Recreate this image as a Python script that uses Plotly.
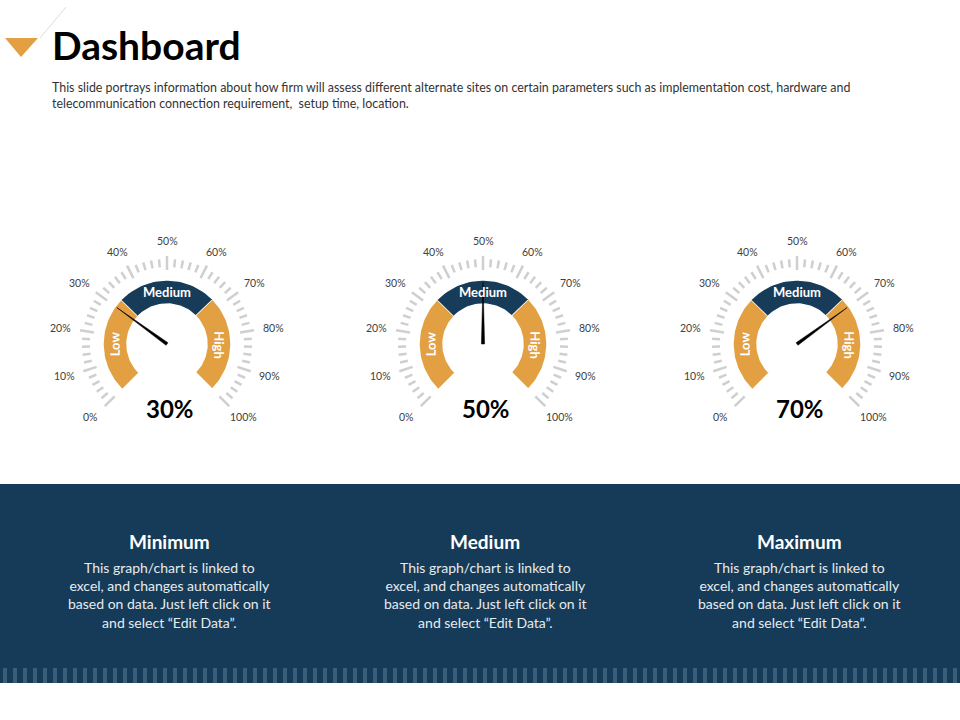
import numpy as np
import plotly.graph_objects as go

# %% DATA
gauge_values = [30, 50, 70]
gauge_titles = ["Minimum", "Medium", "Maximum"]
band_names = ["Low", "Medium", "High"]
band_edges = [0, 33, 67, 100]
tick_labels = [0, 10, 20, 30, 40, 50, 60, 70, 80, 90, 100]
body_text = "This graph/chart is linked to<br>excel, and changes automatically<br>based on data. Just left click on it<br>and select \u201cEdit Data\u201d."

# %% SETTINGS
W, H = 960, 720
centers = [(167, 344), (483, 344), (797, 344)]
ORANGE = "#E2A042"
NAVY = "#173C59"
PANEL = "#153B58"
FONT = "Lato"

def pt(cx, cy, v, r):
    th = np.radians(225 - 2.7 * v)
    return cx + r * np.cos(th), cy - r * np.sin(th)

fig = go.Figure()
annotations = []
shapes = []

for g, (cx, cy) in enumerate(centers):
    # bands
    for b in range(3):
        vs = np.linspace(band_edges[b], band_edges[b + 1], 40)
        outer = [pt(cx, cy, v, 64) for v in vs]
        inner = [pt(cx, cy, v, 40) for v in vs[::-1]]
        xs = [p[0] for p in outer + inner]
        ys = [p[1] for p in outer + inner]
        fig.add_trace(go.Scatter(x=xs, y=ys, fill="toself", mode="lines",
                                 line=dict(color="white", width=1.5),
                                 fillcolor=NAVY if b == 1 else ORANGE, hoverinfo="skip"))
    # band labels
    for b, name in enumerate(band_names):
        mid = (band_edges[b] + band_edges[b + 1]) / 2
        x, y = pt(cx, cy, mid, 52)
        ang = -(225 - 2.7 * mid) + 90
        annotations.append(dict(x=x, y=y, text="<b>" + name + "</b>", showarrow=False,
                                textangle=ang, font=dict(family=FONT, size=13, color="white")))
    # ticks
    tx, ty = [], []
    for v in range(0, 101, 2):
        r0, r1 = (74, 88) if v % 10 == 0 else (77, 85)
        x0, y0 = pt(cx, cy, v, r0)
        x1, y1 = pt(cx, cy, v, r1)
        tx += [x0, x1, None]
        ty += [y0, y1, None]
    fig.add_trace(go.Scatter(x=tx, y=ty, mode="lines", line=dict(color="#CFCFCF", width=2.5),
                             hoverinfo="skip"))
    for v in tick_labels:
        x, y = pt(cx, cy, v, 103)
        x = cx + (x - cx) * 1.05
        annotations.append(dict(x=x, y=y, text=f"{v}%", showarrow=False,
                                font=dict(family=FONT, size=10.5, color="#404040")))
    # needle
    val = gauge_values[g]
    tipx, tipy = pt(cx, cy, val, 62)
    b1 = pt(cx, cy, val - 90 / 2.7, 1.6)
    b2 = pt(cx, cy, val + 90 / 2.7, 1.6)
    fig.add_trace(go.Scatter(x=[b1[0], tipx, b2[0], b1[0]], y=[b1[1], tipy, b2[1], b1[1]],
                             fill="toself", mode="lines", line=dict(color="black", width=0.5),
                             fillcolor="black", hoverinfo="skip"))
    annotations.append(dict(x=cx + 3, y=408, text=f"<b>{val}%</b>", showarrow=False,
                            font=dict(family=FONT, size=24, color="black")))
    # bottom texts
    annotations.append(dict(x=cx + 2, y=541, text="<b>" + gauge_titles[g] + "</b>", showarrow=False,
                            font=dict(family=FONT, size=19, color="white")))
    annotations.append(dict(x=cx + 2, y=595, text=body_text, showarrow=False,
                            font=dict(family=FONT, size=14, color="#E6EBEF")))

# panel and decorations
shapes.append(dict(type="rect", x0=0, x1=W, y0=484, y1=683, fillcolor=PANEL, line_width=0, layer="below"))
for i in range(0, 96):
    x = 3 + i * 10
    shapes.append(dict(type="rect", x0=x, x1=x + 4, y0=668, y1=683,
                       fillcolor="#3A5D78", line_width=0, layer="below"))
shapes.append(dict(type="path", path="M 5 38 L 38 38 L 21 57 Z", fillcolor=ORANGE, line_width=0))
shapes.append(dict(type="line", x0=40, y0=38, x1=66, y1=7, line=dict(color="#DDDDDD", width=1)))

annotations.append(dict(x=50, y=45, text="<b>Dashboard</b>", showarrow=False, xanchor="left",
                        font=dict(family=FONT, size=39, color="black")))
annotations.append(dict(x=50, y=95, xanchor="left", align="left", showarrow=False,
                        text="This slide portrays information about how firm will assess different alternate sites on certain parameters such as implementation cost, hardware and<br>telecommunication connection requirement,  setup time, location.",
                        font=dict(family=FONT, size=12.4, color="#333333")))

fig.update_layout(width=W, height=H, margin=dict(l=0, r=0, t=0, b=0),
                  plot_bgcolor="white", paper_bgcolor="white", showlegend=False,
                  xaxis=dict(range=[0, W], visible=False, fixedrange=True),
                  yaxis=dict(range=[H, 0], visible=False, fixedrange=True),
                  shapes=shapes, annotations=annotations)
fig.write_html("out.html", config={"displayModeBar": False},
               post_script="document.body.style.margin='0';")
